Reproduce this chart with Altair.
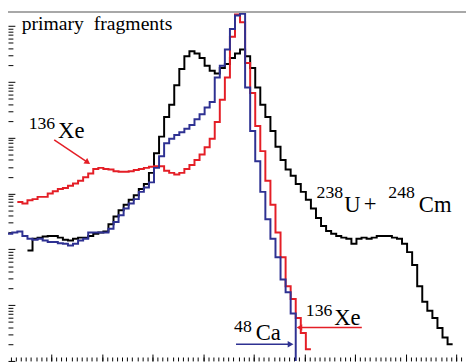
import altair as alt
import pandas as pd

# x axis: 1 unit = 1 minor tick; histogram bin k spans [k + 0.3, k + 1.3)
# values are log10(counts) (y axis is logarithmic)
blue_first_bin = -1
blue_log10 = [2.30, 2.30, 2.28, 2.30, 2.32, 2.24, 2.19, 2.17, 2.19, 2.16,
              2.13, 2.13, 2.11, 2.10, 2.07, 2.10, 2.16, 2.19, 2.30, 2.30,
              2.30, 2.30, 2.37, 2.49, 2.61, 2.73, 2.82, 2.90, 3.03, 3.11,
              3.20, 3.46, 3.67, 3.90, 3.98, 4.05, 4.10, 4.16, 4.23, 4.33,
              4.42, 4.54, 4.64, 5.08, 5.29, 5.58, 5.95, 6.19, 6.22, 4.90,
              4.12, 3.58, 3.03, 2.54, 2.19, 1.86, 1.46, 1.23, 0.85, -1.0]

red_first_bin = 3
red_log10 = [2.85, 2.82, 2.88, 2.90, 2.94, 2.94, 3.00, 3.04, 3.08, 3.10,
             3.14, 3.18, 3.23, 3.29, 3.36, 3.44, 3.46, 3.44, 3.43, 3.40,
             3.39, 3.39, 3.40, 3.42, 3.44, 3.46, 3.48, 3.49, 3.49, 3.41,
             3.37, 3.34, 3.37, 3.44, 3.51, 3.60, 3.70, 3.83, 3.98, 4.28,
             4.68, 5.08, 5.81, 6.21, 6.07, 5.34, 4.80, 4.21, 3.76, 3.23,
             2.80, 2.30, 1.86, 1.34, 1.11, 0.77, 0.50, 0.21, 0.21]

black_first_bin = 5
black_log10 = [1.98, 2.19, 2.21, 2.23, 2.24, 2.24, 2.21, 2.17, 2.16, 2.19,
               2.21, 2.21, 2.24, 2.28, 2.30, 2.32, 2.45, 2.59, 2.70, 2.80,
               2.89, 2.97, 3.08, 3.17, 3.37, 3.72, 4.02, 4.37, 4.59, 4.94,
               5.23, 5.46, 5.55, 5.51, 5.43, 5.29, 5.20, 5.15, 5.25, 5.32,
               5.43, 5.51, 5.58, 5.46, 5.25, 4.90, 4.59, 4.37, 4.12, 3.84,
               3.60, 3.43, 3.32, 3.17, 3.03, 2.89, 2.73, 2.56, 2.42, 2.33,
               2.28, 2.24, 2.21, 2.19, 2.10, 2.19, 2.21, 2.19, 2.21, 2.24,
               2.24, 2.24, 2.21, 2.19, 2.10, 1.95, 1.72, 1.34, 1.06, 0.90,
               0.77, 0.59, 0.42, 0.30, 0.30]

BIN_OFFSET = 0.3
SERIF = "Liberation Serif, Times New Roman, serif"


def series(first_bin, logs):
    return pd.DataFrame({
        "x": [first_bin + i + BIN_OFFSET for i in range(len(logs))],
        "n": [10 ** v for v in logs],
    })


W, H = 466, 356
x_scale = alt.Scale(domain=[1.456, 91.94], nice=False, zero=False)
y_scale = alt.Scale(type="log", domain=[1, 10 ** 6.27], nice=False)

ax_common = dict(labels=False, domain=False, grid=False, title=None,
                 tickColor="black", tickWidth=1)
x_major = alt.Axis(orient="bottom", values=list(range(10, 100, 10)),
                   tickSize=7, offset=-7, **ax_common)
x_minor = alt.Axis(orient="bottom", values=list(range(2, 92)),
                   tickSize=4, offset=-4, **ax_common)
y_major = alt.Axis(orient="left", values=[10 ** n for n in range(0, 7)],
                   tickSize=7, offset=-7, **ax_common)
y_minor = alt.Axis(orient="left",
                   values=[m * 10 ** n for n in range(0, 7) for m in range(2, 10)
                           if m * 10 ** n <= 10 ** 6.27],
                   tickSize=5, offset=-5, **ax_common)


def step(df, color, xaxis, yaxis):
    return alt.Chart(df).mark_line(
        interpolate="step-after", color=color, strokeWidth=2, clip=True
    ).encode(
        x=alt.X("x:Q", scale=x_scale, axis=xaxis),
        y=alt.Y("n:Q", scale=y_scale, axis=yaxis),
    )


black = step(series(black_first_bin, black_log10), "#000000", x_major, y_major)
red = step(series(red_first_bin, red_log10), "#e41e26", x_minor, y_minor)
blue = step(series(blue_first_bin, blue_log10), "#2e3192", None, None)

one = pd.DataFrame({"a": [0]})


def label(text, x, y, size, color="black"):
    return alt.Chart(one).mark_text(
        text=text, align="left", baseline="alphabetic",
        font=SERIF, fontSize=size, color=color
    ).encode(x=alt.value(x), y=alt.value(y))


def arrow(x1, y1, x2, y2, color, angle):
    import math
    dx, dy = x2 - x1, y2 - y1
    L = math.hypot(dx, dy)
    cx, cy = x2 - 3.5 * dx / L, y2 - 3.5 * dy / L
    line = alt.Chart(one).mark_rule(color=color, strokeWidth=1.5).encode(
        x=alt.value(x1), y=alt.value(y1), x2=alt.value(cx), y2=alt.value(cy))
    head = alt.Chart(one).mark_point(
        shape="triangle-up", filled=True, size=45, angle=angle,
        color=color, opacity=1).encode(x=alt.value(cx), y=alt.value(cy))
    return [line, head]


top_line = alt.Chart(one).mark_rule(color="#a8a8a8", strokeWidth=2).encode(
    x=alt.value(0), x2=alt.value(W), y=alt.value(1))

layers = [black, red, blue, top_line,
          label("primary\u00a0\u00a0fragments", 14, 19, 20),
          label("136", 21, 120, 18), label("Xe", 51, 129, 23),
          label("238", 314, 190, 18), label("U", 342, 204, 23),
          label("+", 362, 203, 23),
          label("248", 387, 190, 18), label("Cm", 418, 204, 23),
          label("48", 230, 327, 18), label("Ca", 252, 335, 23),
          label("136", 303, 310, 18), label("Xe", 332, 319, 23)]
layers += arrow(47, 131, 84, 156, "#e41e26", 124)
layers += arrow(232, 339, 291, 339, "#2e3192", 90)
layers += arrow(360, 322, 293, 322, "#e41e26", 270)

chart = alt.layer(*layers).resolve_axis(
    x="independent", y="independent"
).properties(
    width=W, height=H, padding=0, autosize="none", background="white"
).configure_view(stroke=None)

chart.save("out.html", embed_options={"renderer": "svg", "actions": False})
